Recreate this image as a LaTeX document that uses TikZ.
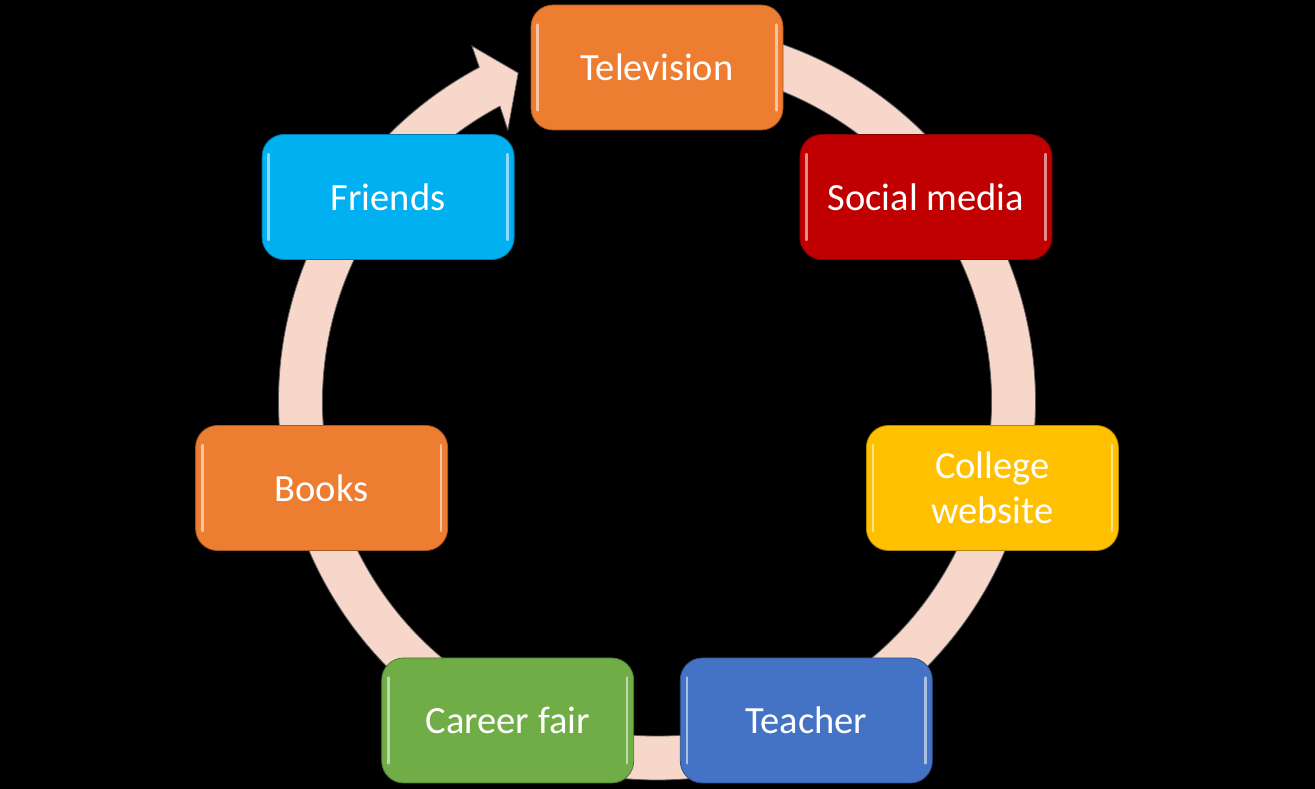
\documentclass[tikz,border=0pt]{standalone}
\usepackage{fontspec}
\setmainfont{Carlito}
\definecolor{ringc}{HTML}{F8D7CB}
\definecolor{tvc}{HTML}{ED7D31}
\definecolor{smc}{HTML}{C00000}
\definecolor{cwc}{HTML}{FFC000}
\definecolor{tec}{HTML}{4472C4}
\definecolor{cfc}{HTML}{70AD47}
\definecolor{frc}{HTML}{00B0F0}
\tikzset{
  box/.style={rounded corners=22pt, minimum width=252pt, minimum height=125pt,
    draw=#1!70!black, line width=0.8pt, fill=#1, text=white,
    font=\fontsize{38.5}{45}\selectfont, align=center, inner sep=0pt},
  hl/.style={white, opacity=0.55, line width=2.6pt, line cap=round},
  ringstyle/.style={fill=ringc, draw=black!65, line width=0.8pt}
}
\begin{document}
\begin{tikzpicture}[x=1pt,y=1pt]
\fill[black] (0,0) rectangle (1315,789);
\useasboundingbox (0,0) rectangle (1315,789);
% ring with arrow
\begin{scope}[shift={(657,387.5)}]
\coordinate (C) at (0,0);
\path[ringstyle] (90:378.5) arc[start angle=90,end angle=-242,radius=378.5]
  -- (-242.5:400.8) -- (-247.1:356.7) -- (-241.2:309.7) -- (-242:334.5)
  arc[start angle=-242,end angle=90,radius=334.5] -- cycle;
\end{scope}
% boxes
\node[box=tvc] (tv) at (657,721.5) {Television};
\node[box=smc] (sm) at (925.9,592) {Social media};
\node[box=cwc] (cw) at (992.4,301) {College\\website};
\node[box=tec] (te) at (806.3,68.5) {Teacher};
\node[box=cfc] (cf) at (507.7,68.5) {Career fair};
\node[box=tvc] (bk) at (321.6,301) {Books};
\node[box=frc] (fr) at (388.1,592) {Friends};
\foreach \n in {tv,sm,cw,te,cf,bk,fr}{
  \draw[hl] ([xshift=7pt,yshift=-20pt]\n.north west) -- ([xshift=7pt,yshift=20pt]\n.south west);
  \draw[hl] ([xshift=-7pt,yshift=-20pt]\n.north east) -- ([xshift=-7pt,yshift=20pt]\n.south east);
}
\end{tikzpicture}
\end{document}
